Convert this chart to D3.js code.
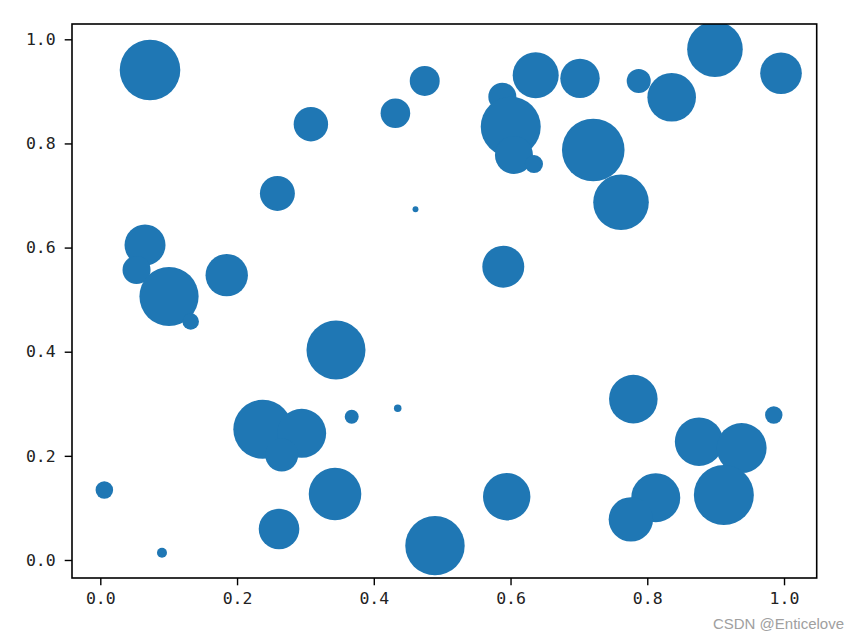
<!DOCTYPE html>
<html>
<head>
<meta charset="utf-8">
<script src="https://cdn.jsdelivr.net/npm/d3@7"></script>
<style>
html,body{margin:0;padding:0;background:#fff;}
</style>
</head>
<body>
<svg id="chart" width="859" height="639"></svg>
<script>
// Data (x, y in data units, s = marker area value)
const xValues = [0.0727,0.308,0.4316,0.4745,0.259,0.461,0.0654,0.053,0.1849,0.1005,
  0.1322,0.3447,0.2377,0.2945,0.2653,0.3677,0.435,0.3433,0.2614,0.0059,
  0.0902,0.4895,0.5944,0.7796,0.985,0.8757,0.938,0.912,0.8124,0.776,
  0.899,0.9956,0.8357,0.7875,0.7016,0.6368,0.721,0.7616,0.5894,0.588,
  0.6003,0.605,0.6343];
const yValues = [0.941,0.837,0.858,0.920,0.704,0.6735,0.605,0.557,0.547,0.506,
  0.458,0.4033,0.251,0.2433,0.2017,0.275,0.2913,0.1267,0.0595,0.1344,
  0.014,0.0275,0.1216,0.309,0.2785,0.2272,0.215,0.1248,0.1196,0.078,
  0.981,0.9347,0.8886,0.920,0.925,0.9309,0.7874,0.687,0.5633,0.8898,
  0.8321,0.7778,0.7605];
const sizeValues = [846,273,202,207,282,8,387,181,414,807,
  63,802,802,553,251,45,13,637,380,71,
  23,813,518,544,70,540,576,829,553,454,
  712,399,544,133,358,488,903,712,406,181,
  829,333,75];
const tickValues = [0.0,0.2,0.4,0.6,0.8,1.0];
const tickLabels = ["0.0","0.2","0.4","0.6","0.8","1.0"];

(function () {
const svg = d3.select("#chart");
const pL = 72, pT = 24, pR = 816.7, pB = 578;

const x = d3.scaleLinear().domain([-0.0414, 1.0478]).range([pL, pR]);
const y = d3.scaleLinear().domain([-0.0346, 1.0294]).range([pB, pT]);
// matplotlib s (pt^2) -> radius px at 150 dpi
const r = d3.scaleSqrt().domain([0, 1000]).range([0, Math.sqrt(1000) * 150 / 72 / 2]);

svg.append("defs").append("clipPath").attr("id", "plotclip")
  .append("rect").attr("x", pL).attr("y", pT)
  .attr("width", pR - pL).attr("height", pB - pT);

const pts = xValues.map((v, i) => ({x: v, y: yValues[i], s: sizeValues[i]}));

svg.append("g").attr("clip-path", "url(#plotclip)")
  .selectAll("circle").data(pts).join("circle")
  .attr("cx", d => x(d.x))
  .attr("cy", d => y(d.y))
  .attr("r", d => r(d.s))
  .attr("fill", "#1f77b4");

const fontFam = "'DejaVu Sans Mono', 'Liberation Mono', monospace";

const xAxis = d3.axisBottom(x).tickValues(tickValues)
  .tickFormat((d, i) => tickLabels[i]).tickSize(7.3).tickPadding(7);
const gx = svg.append("g").attr("transform", `translate(0,${pB})`).call(xAxis);
gx.select(".domain").remove();
gx.selectAll(".tick line").attr("stroke", "#000").attr("stroke-width", 1.4);
gx.selectAll(".tick text").attr("font-family", fontFam).attr("font-size", 16.5)
  .attr("fill", "#222").attr("dy", "0.71em");

const yAxis = d3.axisLeft(y).tickValues(tickValues)
  .tickFormat((d, i) => tickLabels[i]).tickSize(7.3).tickPadding(9);
const gy = svg.append("g").attr("transform", `translate(${pL},0)`).call(yAxis);
gy.select(".domain").remove();
gy.selectAll(".tick line").attr("stroke", "#000").attr("stroke-width", 1.4);
gy.selectAll(".tick text").attr("font-family", fontFam).attr("font-size", 16.5)
  .attr("fill", "#222");

svg.append("rect").attr("x", pL).attr("y", pT)
  .attr("width", pR - pL).attr("height", pB - pT)
  .attr("fill", "none").attr("stroke", "#000").attr("stroke-width", 1.6);

svg.append("text").attr("x", 844).attr("y", 629).attr("text-anchor", "end")
  .attr("font-family", "'Liberation Sans', Arial, sans-serif").attr("font-size", 15)
  .attr("fill", "#a0a0a0").text("CSDN @Enticelove");
})();
</script>
</body>
</html>
